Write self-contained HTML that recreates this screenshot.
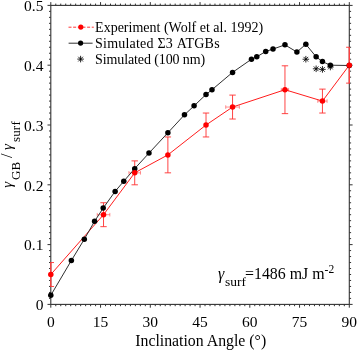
<!DOCTYPE html><html><head><meta charset="utf-8"><style>html,body{margin:0;padding:0;background:#fff;}svg{display:block;} text{font-family:"Liberation Serif","Times New Roman",serif;fill:#000;}</style></head><body>
<svg width="358" height="350" viewBox="0 0 358 350">
<rect width="358" height="350" fill="#fff"/>
<path d="M50.80 304.40v3.3M50.80 5.40v-3.3M55.77 304.40v1.8M55.77 5.40v-1.8M60.75 304.40v1.8M60.75 5.40v-1.8M65.72 304.40v1.8M65.72 5.40v-1.8M70.70 304.40v1.8M70.70 5.40v-1.8M75.67 304.40v1.8M75.67 5.40v-1.8M80.65 304.40v1.8M80.65 5.40v-1.8M85.62 304.40v1.8M85.62 5.40v-1.8M90.60 304.40v1.8M90.60 5.40v-1.8M95.57 304.40v1.8M95.57 5.40v-1.8M100.55 304.40v3.3M100.55 5.40v-3.3M105.53 304.40v1.8M105.53 5.40v-1.8M110.50 304.40v1.8M110.50 5.40v-1.8M115.47 304.40v1.8M115.47 5.40v-1.8M120.45 304.40v1.8M120.45 5.40v-1.8M125.42 304.40v1.8M125.42 5.40v-1.8M130.40 304.40v1.8M130.40 5.40v-1.8M135.38 304.40v1.8M135.38 5.40v-1.8M140.35 304.40v1.8M140.35 5.40v-1.8M145.32 304.40v1.8M145.32 5.40v-1.8M150.30 304.40v3.3M150.30 5.40v-3.3M155.27 304.40v1.8M155.27 5.40v-1.8M160.25 304.40v1.8M160.25 5.40v-1.8M165.22 304.40v1.8M165.22 5.40v-1.8M170.20 304.40v1.8M170.20 5.40v-1.8M175.18 304.40v1.8M175.18 5.40v-1.8M180.15 304.40v1.8M180.15 5.40v-1.8M185.12 304.40v1.8M185.12 5.40v-1.8M190.10 304.40v1.8M190.10 5.40v-1.8M195.07 304.40v1.8M195.07 5.40v-1.8M200.05 304.40v3.3M200.05 5.40v-3.3M205.02 304.40v1.8M205.02 5.40v-1.8M210.00 304.40v1.8M210.00 5.40v-1.8M214.98 304.40v1.8M214.98 5.40v-1.8M219.95 304.40v1.8M219.95 5.40v-1.8M224.93 304.40v1.8M224.93 5.40v-1.8M229.90 304.40v1.8M229.90 5.40v-1.8M234.88 304.40v1.8M234.88 5.40v-1.8M239.85 304.40v1.8M239.85 5.40v-1.8M244.82 304.40v1.8M244.82 5.40v-1.8M249.80 304.40v3.3M249.80 5.40v-3.3M254.77 304.40v1.8M254.77 5.40v-1.8M259.75 304.40v1.8M259.75 5.40v-1.8M264.73 304.40v1.8M264.73 5.40v-1.8M269.70 304.40v1.8M269.70 5.40v-1.8M274.68 304.40v1.8M274.68 5.40v-1.8M279.65 304.40v1.8M279.65 5.40v-1.8M284.62 304.40v1.8M284.62 5.40v-1.8M289.60 304.40v1.8M289.60 5.40v-1.8M294.57 304.40v1.8M294.57 5.40v-1.8M299.55 304.40v3.3M299.55 5.40v-3.3M304.52 304.40v1.8M304.52 5.40v-1.8M309.50 304.40v1.8M309.50 5.40v-1.8M314.48 304.40v1.8M314.48 5.40v-1.8M319.45 304.40v1.8M319.45 5.40v-1.8M324.43 304.40v1.8M324.43 5.40v-1.8M329.40 304.40v1.8M329.40 5.40v-1.8M334.38 304.40v1.8M334.38 5.40v-1.8M339.35 304.40v1.8M339.35 5.40v-1.8M344.32 304.40v1.8M344.32 5.40v-1.8M349.30 304.40v3.3M349.30 5.40v-3.3M50.80 304.40h-3.3M349.30 304.40h3.3M50.80 298.42h-1.8M349.30 298.42h1.8M50.80 292.44h-1.8M349.30 292.44h1.8M50.80 286.46h-1.8M349.30 286.46h1.8M50.80 280.48h-1.8M349.30 280.48h1.8M50.80 274.50h-1.8M349.30 274.50h1.8M50.80 268.52h-1.8M349.30 268.52h1.8M50.80 262.54h-1.8M349.30 262.54h1.8M50.80 256.56h-1.8M349.30 256.56h1.8M50.80 250.58h-1.8M349.30 250.58h1.8M50.80 244.60h-3.3M349.30 244.60h3.3M50.80 238.62h-1.8M349.30 238.62h1.8M50.80 232.64h-1.8M349.30 232.64h1.8M50.80 226.66h-1.8M349.30 226.66h1.8M50.80 220.68h-1.8M349.30 220.68h1.8M50.80 214.70h-1.8M349.30 214.70h1.8M50.80 208.72h-1.8M349.30 208.72h1.8M50.80 202.74h-1.8M349.30 202.74h1.8M50.80 196.76h-1.8M349.30 196.76h1.8M50.80 190.78h-1.8M349.30 190.78h1.8M50.80 184.80h-3.3M349.30 184.80h3.3M50.80 178.82h-1.8M349.30 178.82h1.8M50.80 172.84h-1.8M349.30 172.84h1.8M50.80 166.86h-1.8M349.30 166.86h1.8M50.80 160.88h-1.8M349.30 160.88h1.8M50.80 154.90h-1.8M349.30 154.90h1.8M50.80 148.92h-1.8M349.30 148.92h1.8M50.80 142.94h-1.8M349.30 142.94h1.8M50.80 136.96h-1.8M349.30 136.96h1.8M50.80 130.98h-1.8M349.30 130.98h1.8M50.80 125.00h-3.3M349.30 125.00h3.3M50.80 119.02h-1.8M349.30 119.02h1.8M50.80 113.04h-1.8M349.30 113.04h1.8M50.80 107.06h-1.8M349.30 107.06h1.8M50.80 101.08h-1.8M349.30 101.08h1.8M50.80 95.10h-1.8M349.30 95.10h1.8M50.80 89.12h-1.8M349.30 89.12h1.8M50.80 83.14h-1.8M349.30 83.14h1.8M50.80 77.16h-1.8M349.30 77.16h1.8M50.80 71.18h-1.8M349.30 71.18h1.8M50.80 65.20h-3.3M349.30 65.20h3.3M50.80 59.22h-1.8M349.30 59.22h1.8M50.80 53.24h-1.8M349.30 53.24h1.8M50.80 47.26h-1.8M349.30 47.26h1.8M50.80 41.28h-1.8M349.30 41.28h1.8M50.80 35.30h-1.8M349.30 35.30h1.8M50.80 29.32h-1.8M349.30 29.32h1.8M50.80 23.34h-1.8M349.30 23.34h1.8M50.80 17.36h-1.8M349.30 17.36h1.8M50.80 11.38h-1.8M349.30 11.38h1.8M50.80 5.40h-3.3M349.30 5.40h3.3" stroke="#333" stroke-width="1" fill="none"/>
<rect x="50.80" y="5.40" width="298.50" height="299.00" fill="none" stroke="#333" stroke-width="1.1"/>
<defs><clipPath id="pc"><rect x="50.20" y="5.40" width="299.70" height="299.00"/></clipPath></defs>
<path d="M47.60 262.54h6.4M47.60 286.46h6.4M100.33 202.74h6.4M100.33 226.66h6.4M103.53 202.74V226.66M131.51 160.88h6.4M131.51 184.80h6.4M134.71 160.88V184.80M164.68 136.96h6.4M164.68 172.84h6.4M167.88 136.96V172.84M202.82 113.04h6.4M202.82 136.96h6.4M206.02 113.04V136.96M229.35 95.10h6.4M229.35 119.02h6.4M232.55 95.10V119.02M281.76 65.80h6.4M281.76 113.64h6.4M284.96 65.80V113.64M319.24 89.12h6.4M319.24 113.04h6.4M322.44 89.12V113.04M346.10 47.26h6.4M346.10 83.14h6.4" stroke="#ff3030" stroke-width="0.9" fill="none" clip-path="url(#pc)"/>
<path d="M50.80 262.54V286.46M349.30 47.26V83.14" stroke="#ff4040" stroke-width="1.4" fill="none"/>
<path d="M97.23 214.70H109.84M97.23 212.90v3.6M109.84 212.90v3.6M128.91 172.84H140.52M128.91 171.04v3.6M140.52 171.04v3.6M225.72 107.06H239.39M225.72 105.26v3.6M239.39 105.26v3.6M281.31 89.72H288.60M281.31 87.92v3.6M288.60 87.92v3.6M317.79 101.08H327.08M317.79 99.28v3.6M327.08 99.28v3.6" stroke="#f00" stroke-width="0.7" stroke-opacity="0.6" fill="none"/>
<polyline points="50.80,274.50 103.53,214.70 134.71,172.84 167.88,154.90 206.02,125.00 232.55,107.06 284.96,89.72 322.44,101.08 349.30,65.20" stroke="#ff1010" stroke-width="0.95" fill="none"/>
<polyline points="50.80,295.31 71.36,260.51 84.30,239.22 94.58,221.28 103.20,208.12 115.14,191.38 123.77,181.21 134.71,168.65 148.97,153.11 167.88,132.77 184.46,114.83 194.08,105.86 206.02,94.50 211.99,89.72 232.55,72.38 251.46,59.22 256.77,56.83 265.72,51.45 273.02,49.05 284.96,44.87 296.90,52.04 305.85,44.27 316.13,56.83 322.44,61.61 330.39,65.20 349.30,65.50" stroke="#303030" stroke-width="1" fill="none"/>
<circle cx="50.80" cy="295.31" r="2.75" fill="#000"/>
<circle cx="71.36" cy="260.51" r="2.75" fill="#000"/>
<circle cx="84.30" cy="239.22" r="2.75" fill="#000"/>
<circle cx="94.58" cy="221.28" r="2.75" fill="#000"/>
<circle cx="103.20" cy="208.12" r="2.75" fill="#000"/>
<circle cx="115.14" cy="191.38" r="2.75" fill="#000"/>
<circle cx="123.77" cy="181.21" r="2.75" fill="#000"/>
<circle cx="134.71" cy="168.65" r="2.75" fill="#000"/>
<circle cx="148.97" cy="153.11" r="2.75" fill="#000"/>
<circle cx="167.88" cy="132.77" r="2.75" fill="#000"/>
<circle cx="184.46" cy="114.83" r="2.75" fill="#000"/>
<circle cx="194.08" cy="105.86" r="2.75" fill="#000"/>
<circle cx="206.02" cy="94.50" r="2.75" fill="#000"/>
<circle cx="211.99" cy="89.72" r="2.75" fill="#000"/>
<circle cx="232.55" cy="72.38" r="2.75" fill="#000"/>
<circle cx="251.46" cy="59.22" r="2.75" fill="#000"/>
<circle cx="256.77" cy="56.83" r="2.75" fill="#000"/>
<circle cx="265.72" cy="51.45" r="2.75" fill="#000"/>
<circle cx="273.02" cy="49.05" r="2.75" fill="#000"/>
<circle cx="284.96" cy="44.87" r="2.75" fill="#000"/>
<circle cx="296.90" cy="52.04" r="2.75" fill="#000"/>
<circle cx="305.85" cy="44.27" r="2.75" fill="#000"/>
<circle cx="316.13" cy="56.83" r="2.75" fill="#000"/>
<circle cx="322.44" cy="61.61" r="2.75" fill="#000"/>
<circle cx="330.39" cy="65.20" r="2.75" fill="#000"/>
<circle cx="349.30" cy="65.50" r="2.75" fill="#000"/>
<circle cx="50.80" cy="274.50" r="2.75" fill="#f00"/>
<circle cx="103.53" cy="214.70" r="2.75" fill="#f00"/>
<circle cx="134.71" cy="172.84" r="2.75" fill="#f00"/>
<circle cx="167.88" cy="154.90" r="2.75" fill="#f00"/>
<circle cx="206.02" cy="125.00" r="2.75" fill="#f00"/>
<circle cx="232.55" cy="107.06" r="2.75" fill="#f00"/>
<circle cx="284.96" cy="89.72" r="2.75" fill="#f00"/>
<circle cx="322.44" cy="101.08" r="2.75" fill="#f00"/>
<circle cx="349.30" cy="65.20" r="2.75" fill="#f00"/>
<path d="M305.85 55.92L305.85 62.52M308.19 56.89L303.52 61.55M309.15 59.22L302.55 59.22M308.19 61.55L303.52 56.89M316.13 65.49L316.13 72.09M318.47 66.45L313.80 71.12M319.43 68.79L312.83 68.79M318.47 71.12L313.80 66.45M322.44 66.09L322.44 72.69M324.77 67.05L320.10 71.72M325.74 69.39L319.13 69.39M324.77 71.72L320.10 67.05M330.39 63.69L330.39 70.29M332.73 64.66L328.06 69.33M333.69 66.99L327.09 66.99M332.73 69.33L328.06 64.66" stroke="#000" stroke-width="0.85" fill="none"/>
<path d="M68.5 27.2H93.8" stroke="#ff2020" stroke-width="1" stroke-opacity="0.9" stroke-dasharray="3 1.65"/>
<circle cx="80.8" cy="27.1" r="2.6" fill="#f00"/>
<path d="M68.6 43.2H92.6" stroke="#303030" stroke-width="1"/>
<circle cx="80.6" cy="43.1" r="2.6" fill="#000"/>
<path d="M80.60 55.80L80.60 62.40M82.93 56.77L78.27 61.43M83.90 59.10L77.30 59.10M82.93 61.43L78.27 56.77" stroke="#000" stroke-width="0.85" fill="none"/>
<text x="95.1" y="32.3" font-size="14">Experiment (Wolf et al. 1992)</text>
<text x="95.1" y="48.3" font-size="14" textLength="124.5" lengthAdjust="spacing">Simulated Σ3 ATGBs</text>
<text x="95.1" y="64.3" font-size="14" textLength="110" lengthAdjust="spacing">Simulated (100 nm)</text>
<text x="50.80" y="326.7" font-size="15.5" text-anchor="middle">0</text>
<text x="100.55" y="326.7" font-size="15.5" text-anchor="middle">15</text>
<text x="150.30" y="326.7" font-size="15.5" text-anchor="middle">30</text>
<text x="200.05" y="326.7" font-size="15.5" text-anchor="middle">45</text>
<text x="249.80" y="326.7" font-size="15.5" text-anchor="middle">60</text>
<text x="299.55" y="326.7" font-size="15.5" text-anchor="middle">75</text>
<text x="349.30" y="326.7" font-size="15.5" text-anchor="middle">90</text>
<text x="43.4" y="310.20" font-size="15.5" text-anchor="end">0</text>
<text x="43.4" y="250.40" font-size="15.5" text-anchor="end">0.1</text>
<text x="43.4" y="190.60" font-size="15.5" text-anchor="end">0.2</text>
<text x="43.4" y="130.80" font-size="15.5" text-anchor="end">0.3</text>
<text x="43.4" y="71.00" font-size="15.5" text-anchor="end">0.4</text>
<text x="43.4" y="11.20" font-size="15.5" text-anchor="end">0.5</text>
<text x="200.7" y="345.6" font-size="15.8" text-anchor="middle">Inclination Angle (°)</text>
<text transform="translate(12.3,154.5) rotate(-90)" font-size="16"><tspan x="-33.2" font-style="italic" font-size="15">γ</tspan><tspan x="-25.6" font-size="13" dy="7.3" letter-spacing="0.3">GB</tspan><tspan x="-3.5" dy="-7.3">/</tspan><tspan x="4.4" font-style="italic" font-size="15">γ</tspan><tspan x="12.4" font-size="13" dy="7.3" letter-spacing="0.2">surf</tspan></text>
<text x="218" y="279.3" font-size="15.9"><tspan font-style="italic" font-size="16">γ</tspan><tspan font-size="13.5" dx="0.6" dy="6.7">surf</tspan><tspan dy="-6.7" dx="-0.9">=1486 mJ m</tspan><tspan font-size="11.5" dy="-6.4" dx="0">-2</tspan></text>
</svg></body></html>
